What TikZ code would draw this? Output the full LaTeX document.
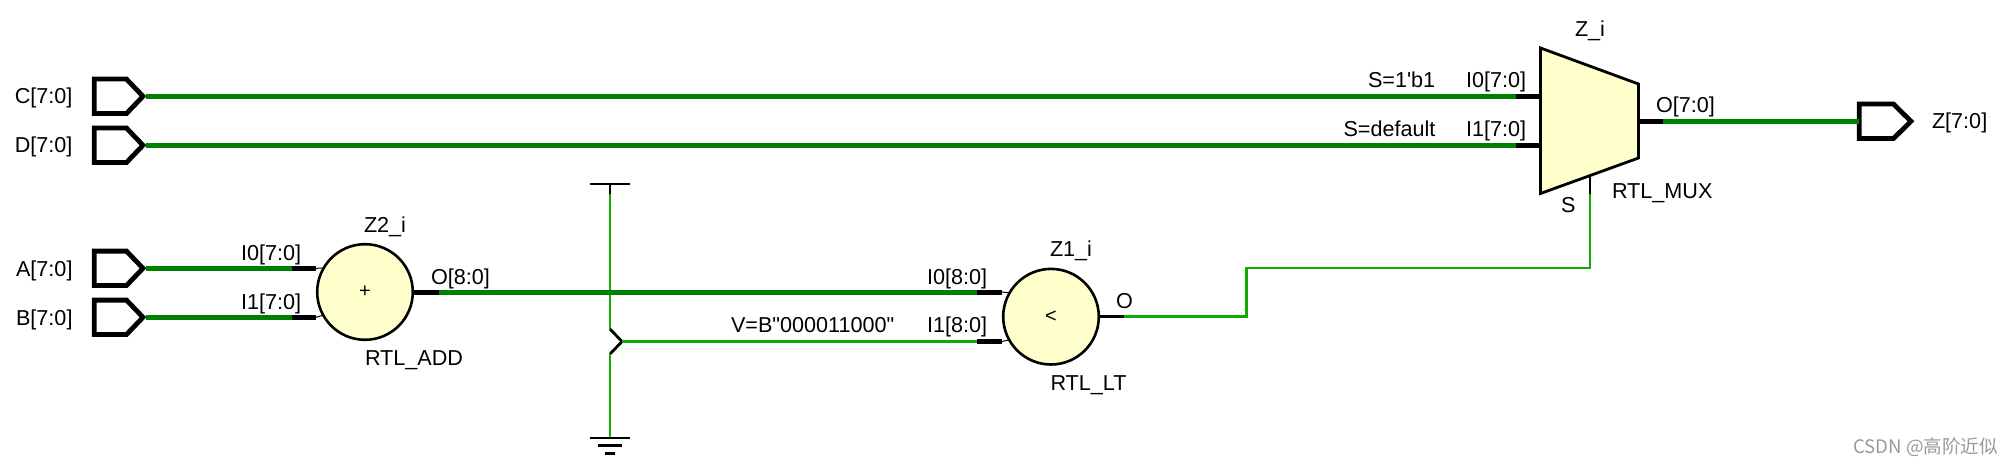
\documentclass[tikz,border=0pt]{standalone}
\usepackage{fontspec}
\newfontfamily\arial{Liberation Sans}
\newfontfamily\cjk{Noto Sans CJK SC}
\definecolor{busgreen}{HTML}{007F00}
\definecolor{netgreen}{HTML}{10AA00}
\definecolor{cellfill}{HTML}{FFFFCC}
\tikzset{
  bus/.style={busgreen,line width=5pt},
  busstub/.style={black,line width=5pt},
  net/.style={netgreen,line width=2.8pt},
  netstub/.style={black,line width=2.8pt},
  tiny stub/.style={black,line width=1pt},
  port/.style={black,line width=4.8pt,line join=miter,fill=white},
  cell/.style={circle,draw=black,fill=cellfill,line width=2.6pt,minimum size=95.6pt,inner sep=0pt,outer sep=0pt,text=black,font=\arial\fontsize{20}{20}\selectfont},
  muxbody/.style={draw=black,fill=cellfill,line width=2.8pt,line join=miter},
  lbl/.style={inner sep=0pt,outer sep=0pt,text=black,font=\arial\fontsize{21.6}{21.6}\selectfont},
  lw/.style={lbl,anchor=base west},
  le/.style={lbl,anchor=base east},
}
\newcommand{\inport}[3]{%
  \draw[port] (94.3,#2-17.2) -- (126.5,#2-17.2) -- (143,#2) -- (126.5,#2+17.2) -- (94.3,#2+17.2) -- cycle;
  \coordinate (#1) at (146,#2);
  \node[le] (lbl#1) at (72.5,#2+7.7) {#3};
}
\begin{document}
\begin{tikzpicture}[x=1pt,y=-1pt]
\useasboundingbox (0,0) rectangle (2004,465);
% cells
\node[cell] (add) at (365,292) {+};
\node[cell] (lt) at (1051,316.7) {<};
\draw[muxbody] (1540.5,48) -- (1638.5,84) -- (1638.5,158) -- (1540.5,193.5) -- cycle;
\coordinate (muxI0) at (1540,96.3);
\coordinate (muxI1) at (1540,145.3);
\coordinate (muxS) at (1590,176);
\coordinate (muxO) at (1640,121.3);
% ports
\inport{pC}{96.3}{C[7:0]}
\inport{pD}{145.3}{D[7:0]}
\inport{pA}{268.3}{A[7:0]}
\inport{pB}{317.3}{B[7:0]}
\draw[port] (1859.3,121.3-17.2) -- (1893.5,121.3-17.2) -- (1911,121.3) -- (1893.5,121.3+17.2) -- (1859.3,121.3+17.2) -- cycle;
\coordinate (pZ) at (1859,121.3);
% stub ends
\coordinate (s0) at (1516,96.3);
\coordinate (s1) at (1516,145.3);
\coordinate (s2) at (292,268.3);
\coordinate (s3) at (292,317.3);
\coordinate (s4) at (316,268.3);
\coordinate (s5) at (316,317.3);
\coordinate (s6) at (439,292);
\coordinate (s7) at (977,292);
\coordinate (s8) at (977,341.5);
\coordinate (s9) at (1002,292);
\coordinate (s10) at (1002,341.5);
\coordinate (s11) at (1124,316.7);
\coordinate (s12) at (1663,121.3);
\coordinate (s13) at (1590,194);
% buses
\draw[bus] (pC) -- (s0);
\draw[busstub] (s0) -- (muxI0);
\draw[bus] (pD) -- (s1);
\draw[busstub] (s1) -- (muxI1);
\draw[busstub] (muxO) -- (s12);
\draw[bus] (s12) -- (pZ);
\draw[bus] (pA) -- (s2);
\draw[busstub] (s2) -- (s4);
\draw[tiny stub] (s4) -- (add.150.7);
\draw[bus] (pB) -- (s3);
\draw[busstub] (s3) -- (s5);
\draw[tiny stub] (s5) -- (add.209.3);
% constant
\coordinate (vcc) at (610,184);
\coordinate (vcc2) at (610,194);
\coordinate (tapA) at (610,329);
\coordinate (tapT) at (622,341.5);
\coordinate (tapB) at (610,354);
\coordinate (gnd) at (610,438);
\draw[netstub] (590,184) -- (630,184);
\draw[netstub] (vcc) -- (vcc2);
\draw[net] (vcc2) -- (tapA);
\draw[netstub,line join=miter] (tapA) -- (tapT) -- (tapB);
\draw[net] (tapB) -- (gnd);
\draw[netstub] (590,438) -- (630,438);
\draw[netstub] (598,445.7) -- (622,445.7);
\draw[netstub] (605,453.7) -- (615,453.7);
\draw[net] (tapT) -- (s8);
\draw[busstub] (s8) -- (s10);
\draw[tiny stub] (s10) -- (lt.209.3);
% adder output to comparator
\draw[busstub] (add.east) -- (s6);
\draw[bus] (s6) -- (s7);
\draw[busstub] (s7) -- (s9);
\draw[tiny stub] (s9) -- (lt.150.7);
% comparator output to mux select
\draw[netstub] (lt.east) -- (s11);
\draw[net,line join=miter] (s11) -- (1246.7,316.7) -- (1246.7,268) -- (1590,268) -- (s13);
\draw[netstub] (s13) -- (muxS);
% labels
\node[lw] (lZ) at (1932,129) {Z[7:0]};
\node[lw] (l1) at (1368,88) {S=1'b1};
\node[lw] (l2) at (1343.5,136.7) {S=default};
\node[lw] (l3) at (1466,88) {I0[7:0]};
\node[lw] (l4) at (1466,136.7) {I1[7:0]};
\node[lw] (l5) at (1575,36.7) {Z\_i};
\node[lw] (l6) at (1561,212) {S};
\node[lw] (l7) at (1612,199) {RTL\_MUX};
\node[lw] (l8) at (1656,112.7) {O[7:0]};
\node[lw] (l9) at (241,260) {I0[7:0]};
\node[lw] (l10) at (241,309) {I1[7:0]};
\node[lw] (l11) at (364,232) {Z2\_i};
\node[lw] (l12) at (431,284) {O[8:0]};
\node[lw] (l13) at (365,365) {RTL\_ADD};
\node[lw] (l14) at (731,332.7) {V=B"000011000"};
\node[lw] (l15) at (927,284) {I0[8:0]};
\node[lw] (l16) at (927,332.7) {I1[8:0]};
\node[lw] (l17) at (1050,256.7) {Z1\_i};
\node[lw] (l18) at (1116,308) {O};
\node[lw] (l19) at (1050.5,390) {RTL\_LT};
\node[anchor=base west,inner sep=0pt,text=black!40,font=\cjk\fontsize{18.6}{18.6}\selectfont] (wm) at (1853,453) {CSDN @高阶近似};
\end{tikzpicture}
\end{document}
